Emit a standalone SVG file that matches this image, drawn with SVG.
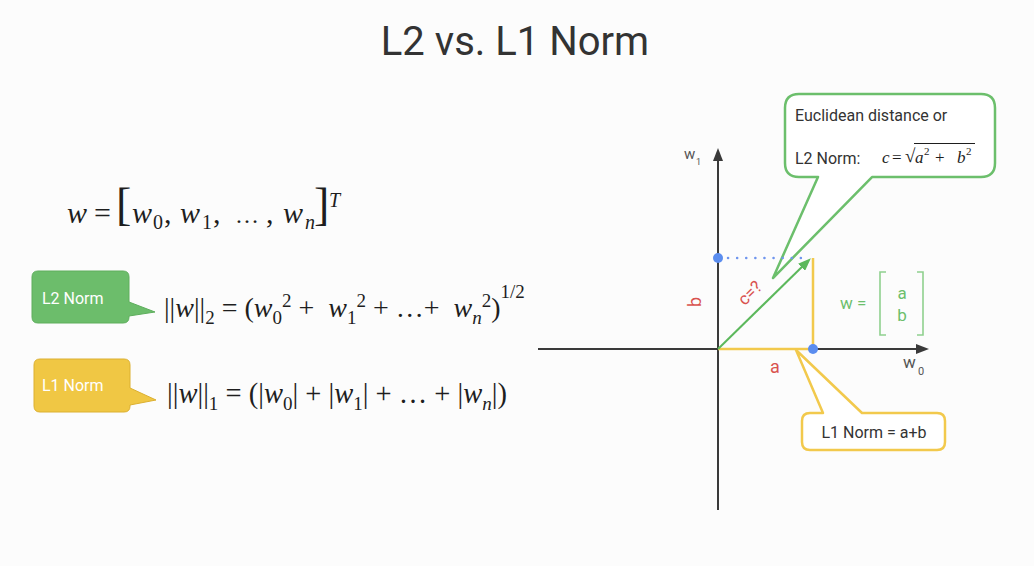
<svg xmlns="http://www.w3.org/2000/svg" width="1034" height="566" viewBox="0 0 1034 566">
<defs>
<style>
.sans{font-family:Roboto,"Liberation Sans",sans-serif}
.math{font-family:"Liberation Serif","DejaVu Serif",serif;fill:#1e1e1e}
.i{font-style:italic}
.axis{stroke:#3a3a3a;stroke-width:2;fill:none}
.red{fill:#d9534f}
.grn{fill:#6cbf6c}
</style>
<marker id="axArrow" markerUnits="userSpaceOnUse" viewBox="0 0 13 10" refX="9" refY="5" markerWidth="13" markerHeight="10" orient="auto">
<path d="M0,0 L13,5 L0,10 Z" fill="#3a3a3a"/>
</marker>
<marker id="gArrow" markerUnits="userSpaceOnUse" viewBox="0 0 13 10" refX="9" refY="5" markerWidth="13" markerHeight="10" orient="auto">
<path d="M0,0 L13,5 L0,10 Z" fill="#5cb85c"/>
</marker>
</defs>
<rect width="1034" height="566" fill="#fcfcfc"/>

<g id="title">
<text x="515" y="55" text-anchor="middle" class="sans" font-size="40" fill="#333">L2 vs. L1 Norm</text>
</g>

<g id="formula-w">
<text class="math" font-size="30">
<tspan x="67" y="223" class="i">w</tspan>
<tspan x="94" y="223">=</tspan>
<tspan x="116" y="220" font-size="46">[</tspan>
<tspan x="132" y="223" class="i">w</tspan><tspan x="153" y="229" font-size="20">0</tspan>
<tspan x="164" y="223">,</tspan>
<tspan x="180" y="223" class="i">w</tspan><tspan x="202" y="229" font-size="20">1</tspan>
<tspan x="213" y="223">,</tspan>
<tspan x="235" y="223" font-size="24">…</tspan>
<tspan x="266" y="223">,</tspan>
<tspan x="283" y="223" class="i">w</tspan><tspan x="305" y="229" font-size="20" class="i">n</tspan>
<tspan x="314" y="220" font-size="46">]</tspan>
<tspan x="329" y="207" font-size="20" class="i">T</tspan>
</text>
</g>

<g id="l2-bubble">
<path d="M38 271 H123 Q129 271 129 277 V302 L155 312 L129 316 V317 Q129 323 123 323 H38 Q32 323 32 317 V277 Q32 271 38 271 Z" fill="#6cbd6b" stroke="#5eae5d" stroke-width="1"/>
<text x="42" y="304" class="sans" font-size="16" fill="#fff">L2 Norm</text>
</g>
<g id="l2-formula">
<text x="164" y="317" class="math" font-size="28">||<tspan class="i">w</tspan>||<tspan font-size="19" dy="7">2</tspan><tspan dy="-7"> = (</tspan><tspan class="i">w</tspan><tspan font-size="19" dy="7">0</tspan><tspan font-size="19" dy="-17">2</tspan><tspan dy="10"> +&#160; </tspan><tspan class="i">w</tspan><tspan font-size="19" dy="7">1</tspan><tspan font-size="19" dy="-17">2</tspan><tspan dy="10"> + …+&#160; </tspan><tspan class="i">w</tspan><tspan font-size="19" dy="7" class="i">n</tspan><tspan font-size="19" dy="-17">2</tspan><tspan dy="10">)</tspan><tspan font-size="19" dy="-19">1/2</tspan></text>
</g>

<g id="l1-bubble">
<path d="M40 359 H124 Q130 359 130 365 V388 L156 400 L130 405 V406 Q130 412 124 412 H40 Q34 412 34 406 V365 Q34 359 40 359 Z" fill="#f0c744" stroke="#dcb030" stroke-width="1"/>
<text x="42" y="391" class="sans" font-size="16" fill="#fff">L1 Norm</text>
</g>
<g id="l1-formula">
<text x="167" y="403" class="math" font-size="28.5">||<tspan class="i">w</tspan>||<tspan font-size="19" dy="7">1</tspan><tspan dy="-7"> = (|</tspan><tspan class="i">w</tspan><tspan font-size="19" dy="7">0</tspan><tspan dy="-7">| + |</tspan><tspan class="i">w</tspan><tspan font-size="19" dy="7">1</tspan><tspan dy="-7">| + … + |</tspan><tspan class="i">w</tspan><tspan font-size="19" dy="7" class="i">n</tspan><tspan dy="-7">|)</tspan></text>
</g>

<g id="axes">
<line x1="538" y1="349" x2="925" y2="349" class="axis" marker-end="url(#axArrow)"/>
<line x1="718" y1="510" x2="718" y2="152" class="axis" marker-end="url(#axArrow)"/>
<text x="684" y="159" class="sans" font-size="15" fill="#555">w</text>
<text x="696" y="165" class="sans" font-size="9" fill="#555">1</text>
<text x="903" y="368" class="sans" font-size="17" fill="#555">w</text>
<text x="918" y="375" class="sans" font-size="11" fill="#555">0</text>
</g>

<g id="euclid-callout">
<path d="M799 94 H981 Q995 94 995 108 V163 Q995 177 981 177 H872 L773 278 L818 177 H799 Q785 177 785 163 V108 Q785 94 799 94 Z" fill="#fff" stroke="#6cbf6c" stroke-width="2.5" stroke-linejoin="round"/>
<text x="795" y="121" class="sans" font-size="16" fill="#333">Euclidean distance or</text>
<text x="795" y="164" class="sans" font-size="16" fill="#333">L2 Norm:</text>
<text class="math" font-size="17">
<tspan x="882" y="163" class="i">c</tspan>
<tspan x="892" y="163">=</tspan>
<tspan x="905" y="162" font-size="19">√</tspan>
<tspan x="915" y="163" class="i">a</tspan><tspan x="924" y="155" font-size="11">2</tspan>
<tspan x="935" y="163">+</tspan>
<tspan x="957" y="163" class="i">b</tspan><tspan x="966" y="155" font-size="11">2</tspan>
</text>
<line x1="914" y1="143.5" x2="975" y2="143.5" stroke="#1e1e1e" stroke-width="1"/>
</g>

<g id="l1-callout">
<path d="M810 413 H823 L796 350 L862 413 H937 Q945 413 945 421 V442 Q945 450 937 450 H810 Q802 450 802 442 V421 Q802 413 810 413 Z" fill="#fff" stroke="#f2c94c" stroke-width="2.5" stroke-linejoin="round"/>
<text x="874" y="438" text-anchor="middle" class="sans" font-size="16" fill="#333">L1 Norm = a+b</text>
</g>

<g id="connectors">
<line x1="718" y1="349" x2="813" y2="349" stroke="#f2c94c" stroke-width="2.5"/>
<line x1="813" y1="258" x2="813" y2="349" stroke="#f2c94c" stroke-width="2.5"/>
<line x1="728" y1="258" x2="808" y2="258" stroke="#6f95ee" stroke-width="2.5" stroke-linecap="round" stroke-dasharray="0.1 9"/>
<line x1="718" y1="349" x2="808" y2="261" stroke="#5cb85c" stroke-width="2" marker-end="url(#gArrow)"/>
<circle cx="718" cy="258" r="5" fill="#5b8def"/>
<circle cx="813" cy="349" r="5" fill="#5b8def"/>
</g>

<g id="labels">
<text transform="translate(701,302) rotate(-90)" text-anchor="middle" class="sans red" font-size="18">b</text>
<text transform="translate(754,297) rotate(-45)" text-anchor="middle" class="sans red" font-size="17">c=?</text>
<text x="775" y="373" text-anchor="middle" class="sans red" font-size="18">a</text>
<text x="840" y="309" class="sans grn" font-size="17">w =</text>
<path d="M886 272 H880 V335 H886 M917 272 H923 V335 H917" fill="none" stroke="#8fd08e" stroke-width="1.6"/>
<text x="902" y="299" text-anchor="middle" class="sans grn" font-size="17">a</text>
<text x="902" y="321" text-anchor="middle" class="sans grn" font-size="17">b</text>
</g>
</svg>
